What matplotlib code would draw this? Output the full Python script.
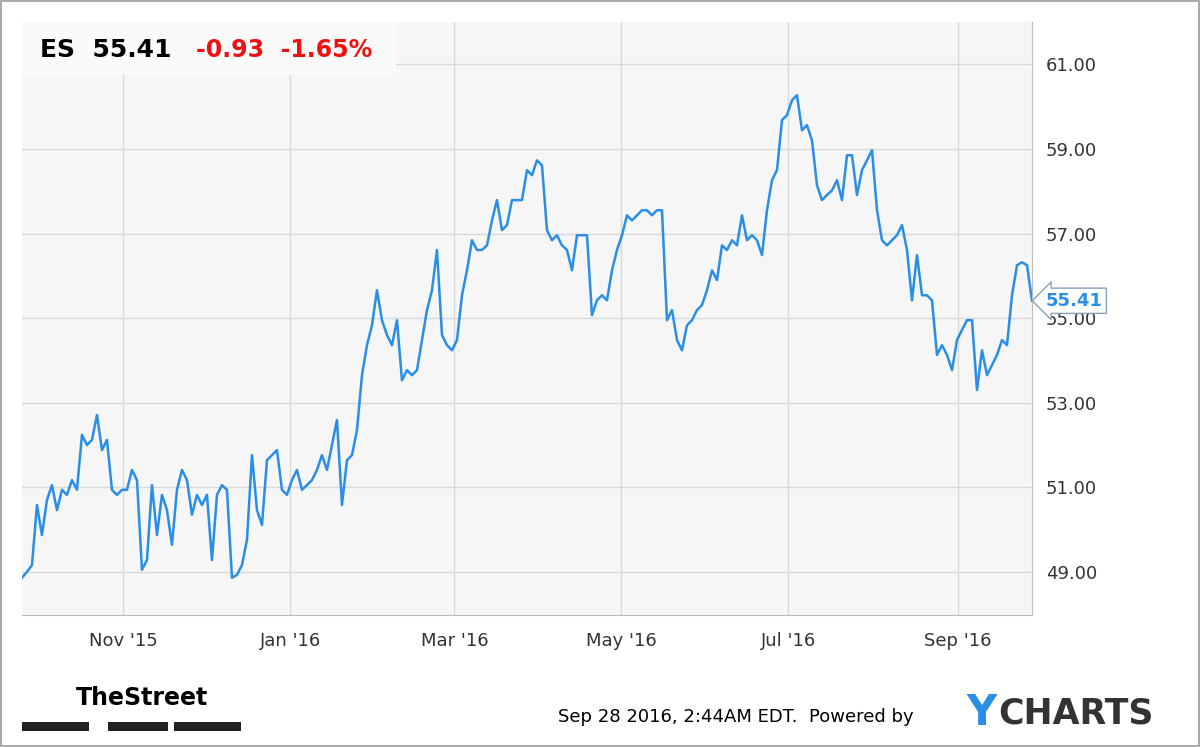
import numpy as np
import pandas as pd
import matplotlib.pyplot as plt
from matplotlib.patches import Rectangle

# ES closing prices (Sep 25 2015 - Sep 28 2016)
prices = [48.86, 49.00, 49.16, 50.58, 49.87, 50.70, 51.05, 50.46, 50.94, 50.82,
          51.17, 50.94, 52.24, 52.00, 52.12, 52.71, 51.88, 52.12, 50.94, 50.82,
          50.94, 50.94, 51.41, 51.17, 49.05, 49.28, 51.05, 49.87, 50.82, 50.46,
          49.64, 50.94, 51.41, 51.17, 50.35, 50.82, 50.58, 50.82, 49.28, 50.82,
          51.05, 50.94, 48.86, 48.93, 49.16, 49.76, 51.76, 50.46, 50.11, 51.64,
          51.76, 51.88, 50.94, 50.82, 51.17, 51.41, 50.94, 51.05, 51.17, 51.41,
          51.76, 51.41, 52.00, 52.59, 50.58, 51.64, 51.76, 52.35, 53.65, 54.36,
          54.83, 55.66, 54.95, 54.60, 54.36, 54.95, 53.53, 53.77, 53.65, 53.77,
          54.48, 55.19, 55.66, 56.61, 54.60, 54.36, 54.24, 54.48, 55.54, 56.13,
          56.84, 56.61, 56.61, 56.72, 57.31, 57.79, 57.08, 57.20, 57.79, 57.79,
          57.79, 58.50, 58.38, 58.73, 58.61, 57.08, 56.84, 56.96, 56.72, 56.61,
          56.13, 56.96, 56.96, 56.96, 55.07, 55.42, 55.54, 55.42, 56.13, 56.61,
          56.96, 57.43, 57.31, 57.43, 57.55, 57.55, 57.43, 57.55, 57.55, 54.95,
          55.19, 54.48, 54.24, 54.83, 54.95, 55.19, 55.31, 55.66, 56.13, 55.90,
          56.72, 56.61, 56.84, 56.72, 57.43, 56.84, 56.96, 56.84, 56.49, 57.55,
          58.26, 58.50, 59.68, 59.80, 60.15, 60.27, 59.44, 59.56, 59.20, 58.14,
          57.79, 57.91, 58.02, 58.26, 57.79, 58.85, 58.85, 57.91, 58.50, 58.73,
          58.97, 57.55, 56.84, 56.72, 56.84, 56.96, 57.20, 56.61, 55.42, 56.49,
          55.54, 55.54, 55.42, 54.13, 54.36, 54.13, 53.77, 54.48, 54.72, 54.95,
          54.95, 53.30, 54.24, 53.65, 53.89, 54.13, 54.48, 54.36, 55.54, 56.25,
          56.32, 56.25, 55.41]
dates = pd.date_range("2015-09-25", "2016-09-28", periods=len(prices))
yticks = [49, 51, 53, 55, 57, 59, 61]
xticks = pd.to_datetime(["2015-11-01", "2016-01-01", "2016-03-01", "2016-05-01",
                         "2016-07-01", "2016-09-01"])
xlabels = ["Nov '15", "Jan '16", "Mar '16", "May '16", "Jul '16", "Sep '16"]

blue = "#2a8ee6"
fig = plt.figure(figsize=(12, 7.47), dpi=100)
fig.patches.append(Rectangle((0.001, 0.001), 0.998, 0.998, transform=fig.transFigure,
                             fill=False, edgecolor="#999999", lw=1.2))
ax = fig.add_axes([0.0183, 0.1767, 0.8417, 0.7938])
ax.set_facecolor("#f6f6f6")
ax.plot(dates, prices, color=blue, lw=1.8)
ax.set_xlim(dates[0], dates[-1])
ax.set_ylim(47.98, 62.0)
ax.set_yticks(yticks)
ax.set_yticklabels([f"{v:.2f}" for v in yticks])
ax.set_xticks(xticks)
ax.set_xticklabels(xlabels)
ax.yaxis.tick_right()
ax.tick_params(length=0, labelsize=13, colors="#333333", pad=10)
ax.tick_params(axis="x", pad=12)
ax.grid(color="#d8d8d8", lw=1)
for s in ax.spines.values():
    s.set_visible(False)
ax.spines["right"].set_visible(True)
ax.spines["bottom"].set_visible(True)
ax.spines["right"].set_color("#bbbbbb")
ax.spines["bottom"].set_color("#bbbbbb")

# last-price label
ax.annotate(f"{prices[-1]:.2f}", xy=(1.0, prices[-1]), xycoords=("axes fraction", "data"),
            xytext=(10, 0), textcoords="offset points", va="center", ha="left",
            color=blue, fontsize=13, fontweight="bold",
            bbox=dict(boxstyle="larrow,pad=0.2", fc="white", ec="#8aa0b8"))

# header
fig.patches.append(Rectangle((0.0183, 0.9), 0.312, 0.0705, transform=fig.transFigure,
                             fc="#fafafa", ec="none", zorder=3))
fig.text(0.033, 0.933, "ES  55.41", fontsize=18, fontweight="bold", va="center", zorder=4)
fig.text(0.163, 0.933, "-0.93  -1.65%", fontsize=17, fontweight="bold", color="#ee1111",
         va="center", zorder=4)

# footer
fig.text(0.063, 0.065, "TheStreet", fontsize=17, fontweight="bold", family="Liberation Sans Narrow",
         va="center")
for x0 in (0.018, 0.09, 0.145):
    fig.patches.append(Rectangle((x0, 0.022), 0.056 if x0 != 0.09 else 0.05, 0.012,
                                 transform=fig.transFigure, fc="#222222", ec="none"))
fig.text(0.465, 0.04, "Sep 28 2016, 2:44AM EDT.  Powered by", fontsize=13, va="center")
fig.text(0.805, 0.045, "Y", fontsize=30, fontweight="bold", color="#2a8ee6", va="center")
fig.text(0.832, 0.045, "CHARTS", fontsize=25, fontweight="bold", color="#333333", va="center")

fig.savefig("out.png", dpi=100)
